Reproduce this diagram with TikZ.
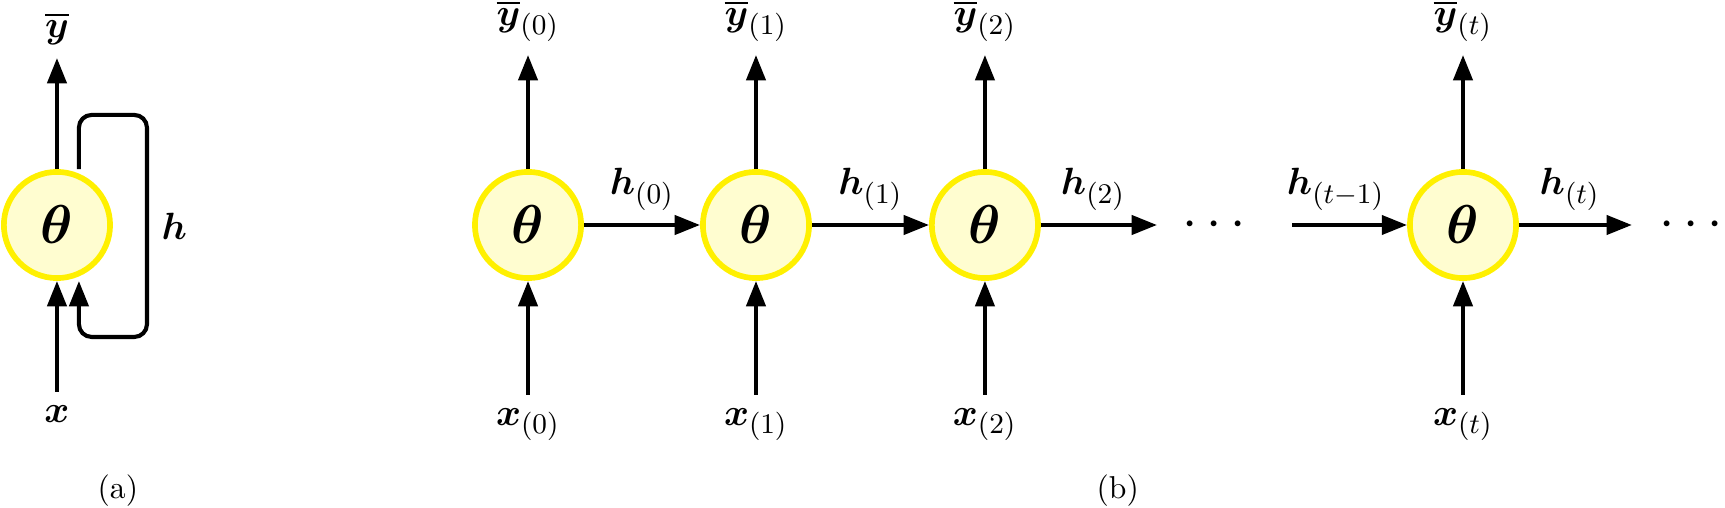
\documentclass[tikz,border=0pt]{standalone}
\usepackage{amsmath}
\usepackage{amssymb}
\usepackage{xcolor}
\usepackage{tikz}
\usetikzlibrary{arrows.meta, positioning, calc}
\definecolor{cellborder}{RGB}{255, 240, 0}
\definecolor{cellfill}{RGB}{255, 253, 208}

\begin{document}
\begin{tikzpicture}[
    cell/.style={circle, draw=cellborder, fill=cellfill, line width=1.8pt,
                 minimum size=1.18cm, inner sep=0pt,
                 font=\fontsize{17}{20}\selectfont},
    lbl/.style={font=\fontsize{12.5}{15}\selectfont, inner sep=4pt},
    arr/.style={-{Triangle[length=8pt, width=6pt]}, line width=1.3pt},
    subcap/.style={font=\normalsize, inner sep=0pt},
    ellip/.style={font=\fontsize{18.5}{22}\selectfont, inner sep=0pt},
]
\useasboundingbox (0,0) rectangle (19.167,5.644);

%% ── (a) folded network ──────────────────────────────────────────────────────
\node[cell]                  (cA)   at (0.633,3.144)  {$\boldsymbol{\theta}$};
\node[lbl, anchor=south]     (yA)   at (0.633,5.0)    {$\overline{\boldsymbol{y}}$};
\node[lbl, anchor=north]     (xA)   at (0.633,1.289)  {$\boldsymbol{x}$};
\coordinate                  (loopT) at (1.633,4.367);
\coordinate                  (loopB) at (1.633,1.9);
\node[subcap]                (capA) at (1.31,0.19)    {(a)};

\draw[arr] (cA.north) -- (yA.south);
\draw[arr] (xA.north) -- (cA.south);
\draw[arr, rounded corners=4pt] ([xshift=0.244cm]cA.north) |- (loopT) --
           node[lbl, right]{$\boldsymbol{h}$} (loopB) -| ([xshift=0.244cm]cA.south);

%% ── (b) unfolded network ────────────────────────────────────────────────────
\node[cell]                  (c0)   at (5.867,3.144)  {$\boldsymbol{\theta}$};
\node[lbl, anchor=south]     (y0)   at (5.867,5.033)  {$\overline{\boldsymbol{y}}_{(0)}$};
\node[lbl, anchor=north]     (x0)   at (5.867,1.256)  {$\boldsymbol{x}_{(0)}$};

\node[cell]                  (c1)   at (8.4,3.144)    {$\boldsymbol{\theta}$};
\node[lbl, anchor=south]     (y1)   at (8.4,5.033)    {$\overline{\boldsymbol{y}}_{(1)}$};
\node[lbl, anchor=north]     (x1)   at (8.4,1.256)    {$\boldsymbol{x}_{(1)}$};

\node[cell]                  (c2)   at (10.944,3.144) {$\boldsymbol{\theta}$};
\node[lbl, anchor=south]     (y2)   at (10.944,5.033) {$\overline{\boldsymbol{y}}_{(2)}$};
\node[lbl, anchor=north]     (x2)   at (10.944,1.256) {$\boldsymbol{x}_{(2)}$};

\node[ellip]                 (d1)   at (13.544,3.144) {$\cdots$};

\node[cell]                  (ct)   at (16.256,3.144) {$\boldsymbol{\theta}$};
\node[lbl, anchor=south]     (yt)   at (16.256,5.033) {$\overline{\boldsymbol{y}}_{(t)}$};
\node[lbl, anchor=north]     (xt)   at (16.256,1.256) {$\boldsymbol{x}_{(t)}$};

\node[ellip]                 (d2)   at (18.844,3.144) {$\cdots$};
\node[subcap]                (capB) at (12.42,0.19)   {(b)};

% outputs and inputs
\draw[arr] (c0.north) -- (y0.south);
\draw[arr] (x0.north) -- (c0.south);
\draw[arr] (c1.north) -- (y1.south);
\draw[arr] (x1.north) -- (c1.south);
\draw[arr] (c2.north) -- (y2.south);
\draw[arr] (x2.north) -- (c2.south);
\draw[arr] (ct.north) -- (yt.south);
\draw[arr] (xt.north) -- (ct.south);

% hidden states
\draw[arr] (c0) -- node[lbl, above]{$\boldsymbol{h}_{(0)}$} (c1);
\draw[arr] (c1) -- node[lbl, above]{$\boldsymbol{h}_{(1)}$} (c2);
\draw[arr] (c2) -- node[lbl, above, pos=0.45]{$\boldsymbol{h}_{(2)}$}
           ([xshift=-0.688cm]d1.center);
\draw[arr] ([xshift=0.812cm]d1.center) --
           node[lbl, above, pos=0.38]{$\boldsymbol{h}_{(t-1)}$} (ct);
\draw[arr] (ct) -- node[lbl, above, pos=0.45]{$\boldsymbol{h}_{(t)}$}
           ([xshift=-0.711cm]d2.center);

\end{tikzpicture}
\end{document}
